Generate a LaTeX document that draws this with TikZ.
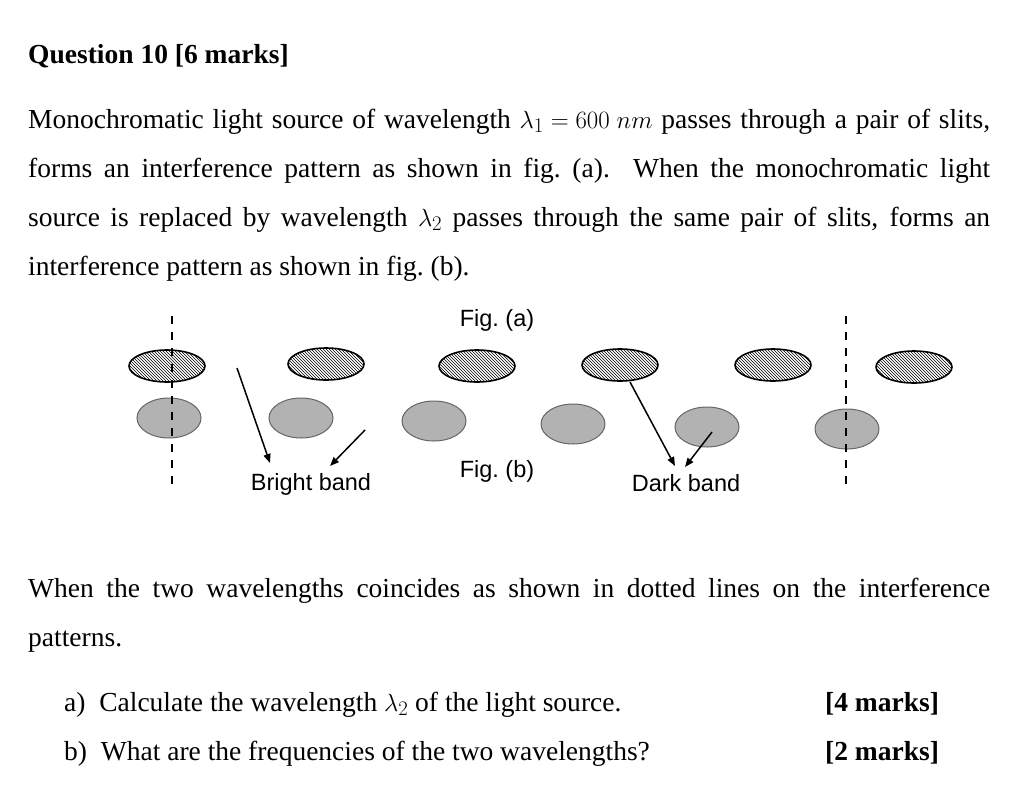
\documentclass[tikz,border=0pt]{standalone}
\usepackage{fontspec}
\setmainfont{Liberation Serif}
\setsansfont{Liberation Sans}
\usetikzlibrary{patterns,arrows.meta,shapes.geometric}
\begin{document}
\begin{tikzpicture}[x=1pt,y=-1pt,
  body/.style={anchor=base west,inner sep=0,font=\fontsize{27.5}{30}\selectfont},
  jline/.style={body},
  lab/.style={inner sep=0,font=\sffamily\fontsize{23.5}{26}\selectfont},
  hat/.style={draw=black,line width=1.6pt,pattern=north west lines},
  gray/.style={draw=gray!80!black,line width=1pt,fill=gray!60},
  arr/.style={-{Triangle[length=9pt,width=7pt]},line width=1.5pt},
  dsh/.style={dash pattern=on 8pt off 8pt,line width=1.5pt}]
\useasboundingbox (0,0) rectangle (1024,803);
\node[body,font=\bfseries\fontsize{27.5}{30}\selectfont] (q) at (28,63) {Question 10 [6 marks]};
\node[jline] (l1) at (28,128) {\makebox[962pt][s]{Monochromatic light source of wavelength \mbox{$\lambda_1=600\;nm$} passes through a pair of slits,}};
\node[jline] (l2) at (28,177) {\makebox[962pt][s]{forms an interference pattern as shown in fig.~(a).\ \ When the monochromatic light}};
\node[jline] (l3) at (28,226) {\makebox[962pt][s]{source is replaced by wavelength\ \mbox{$\lambda_2$} passes through the same pair of slits, forms an}};
\node[body] (l4) at (28,275) {interference pattern as shown in fig.~(b).};
\node[jline] (l5) at (28,597) {\makebox[962pt][s]{When the two wavelengths coincides as shown in dotted lines on the interference}};
\node[body] (l6) at (28,646) {patterns.};
\node[body] (qa) at (64,711) {a)\ \ Calculate the wavelength $\lambda_2$ of the light source.};
\node[body] (qb) at (64,760) {b)\ \ What are the frequencies of the two wavelengths?};
\node[body,font=\bfseries\fontsize{27.5}{30}\selectfont] (ma) at (825,711) {[4 marks]};
\node[body,font=\bfseries\fontsize{27.5}{30}\selectfont] (mb) at (825,760) {[2 marks]};
% diagram
\foreach \x/\y [count=\i] in {167/366,326/364,477/366,620/365,773/365,914/367}
  \node[hat,ellipse,minimum width=76pt,minimum height=32pt,inner sep=0] (t\i) at (\x,\y) {};
\foreach \x/\y [count=\i] in {169/418,301/418,434/421,573/424,707/427,847/429}
  \node[gray,ellipse,minimum width=64pt,minimum height=40pt,inner sep=0] (b\i) at (\x,\y) {};
\coordinate (d1a) at (172,316); \coordinate (d1b) at (172,490);
\coordinate (d2a) at (846,316); \coordinate (d2b) at (846,490);
\draw[dsh] (d1a) -- (d1b);
\draw[dsh] (d2a) -- (d2b);
\node[lab] (fa) at (497,320) {Fig.~(a)};
\node[lab] (fb) at (497,471) {Fig.~(b)};
\node[lab] (bb) at (311,484) {Bright band};
\node[lab] (db) at (686,483) {Dark band};
\coordinate (a1) at (237,368); \coordinate (a1e) at (270,463);
\coordinate (a2) at (365,430); \coordinate (a2e) at (330,466);
\coordinate (a3) at (630,382); \coordinate (a3e) at (675,466);
\coordinate (a4) at (712,432); \coordinate (a4e) at (685,467);
\draw[arr] (a1) -- (a1e);
\draw[arr] (a2) -- (a2e);
\draw[arr] (a3) -- (a3e);
\draw[arr] (a4) -- (a4e);
\end{tikzpicture}
\end{document}
